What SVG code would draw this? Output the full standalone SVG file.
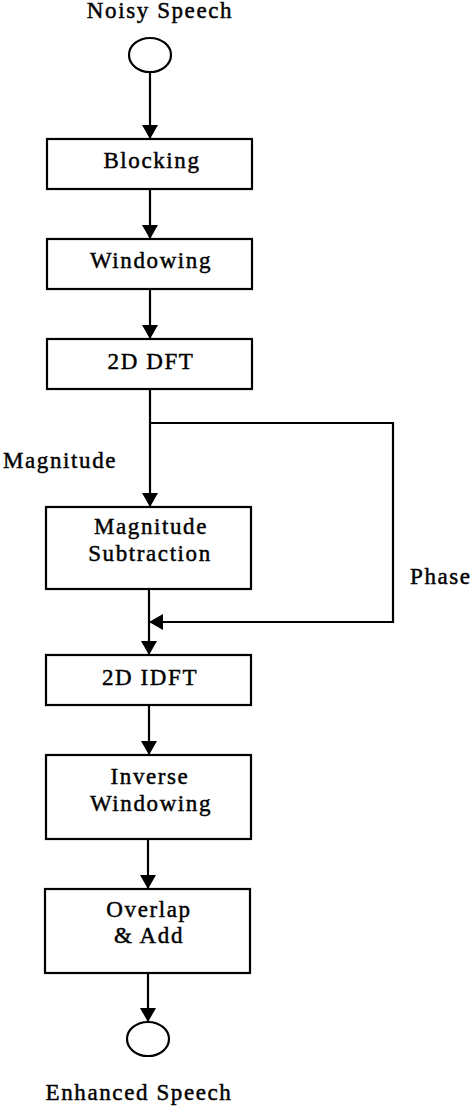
<svg xmlns="http://www.w3.org/2000/svg" width="474" height="1107" viewBox="0 0 474 1107">
<style>
  .box { fill: #ffffff; stroke: #000000; stroke-width: 2.2; }
  .term { fill: #ffffff; stroke: #000000; stroke-width: 2.2; }
  .lbl { font-family: "Liberation Serif", "Times New Roman", serif; font-size: 23px; letter-spacing: 1.6px; fill: #000000; stroke: #000000; stroke-width: 0.45; text-anchor: middle; }
  .side { font-family: "Liberation Serif", "Times New Roman", serif; font-size: 23px; letter-spacing: 1.6px; fill: #000000; stroke: #000000; stroke-width: 0.45; }
  .conn { fill: none; stroke: #000000; stroke-width: 2.2; marker-end: url(#arrow); }
</style>
<defs>
  <marker id="arrow" markerUnits="userSpaceOnUse" markerWidth="15" markerHeight="17" refX="14" refY="8" orient="auto" viewBox="0 0 15 17">
    <path d="M0,0 L14,8 L0,16 z" fill="#000000"/>
  </marker>
</defs>
<rect width="474" height="1107" fill="#ffffff"/>

<g id="connectors">
  <path class="conn" d="M150,72 L150,139"/>
  <path class="conn" d="M150,189 L150,239"/>
  <path class="conn" d="M150,289 L150,339"/>
  <path class="conn" d="M150,389 L150,507"/>
  <path class="conn" d="M150,423 L393,423 L393,622 L149,622"/>
  <path class="conn" d="M149,589 L149,655"/>
  <path class="conn" d="M149,705 L149,755"/>
  <path class="conn" d="M148,839 L148,889"/>
  <path class="conn" d="M148,973 L148,1022"/>
  <text class="side" x="3" y="468">Magnitude</text>
  <text class="side" x="410" y="584">Phase</text>
</g>

<g id="noisy-speech">
  <ellipse class="term" cx="150" cy="55" rx="21" ry="17"/>
  <text class="lbl" x="160" y="18">Noisy Speech</text>
</g>
<g id="blocking">
  <rect class="box" x="47" y="139" width="205" height="50"/>
  <text class="lbl" x="152" y="168">Blocking</text>
</g>
<g id="windowing">
  <rect class="box" x="47" y="239" width="205" height="50"/>
  <text class="lbl" x="151" y="268">Windowing</text>
</g>
<g id="dft">
  <rect class="box" x="47" y="339" width="205" height="50"/>
  <text class="lbl" x="151" y="369">2D DFT</text>
</g>
<g id="magnitude-subtraction">
  <rect class="box" x="46" y="507" width="205" height="82"/>
  <text class="lbl" x="151" y="534">Magnitude</text>
  <text class="lbl" x="150" y="561">Subtraction</text>
</g>
<g id="idft">
  <rect class="box" x="46" y="655" width="205" height="50"/>
  <text class="lbl" x="150" y="685">2D IDFT</text>
</g>
<g id="inverse-windowing">
  <rect class="box" x="46" y="755" width="205" height="84"/>
  <text class="lbl" x="150" y="784">Inverse</text>
  <text class="lbl" x="151" y="811">Windowing</text>
</g>
<g id="overlap-add">
  <rect class="box" x="45" y="889" width="205" height="84"/>
  <text class="lbl" x="149" y="917">Overlap</text>
  <text class="lbl" x="149" y="943">&amp; Add</text>
</g>
<g id="enhanced-speech">
  <ellipse class="term" cx="148" cy="1039" rx="21" ry="17"/>
  <text class="lbl" x="139" y="1100">Enhanced Speech</text>
</g>
</svg>
